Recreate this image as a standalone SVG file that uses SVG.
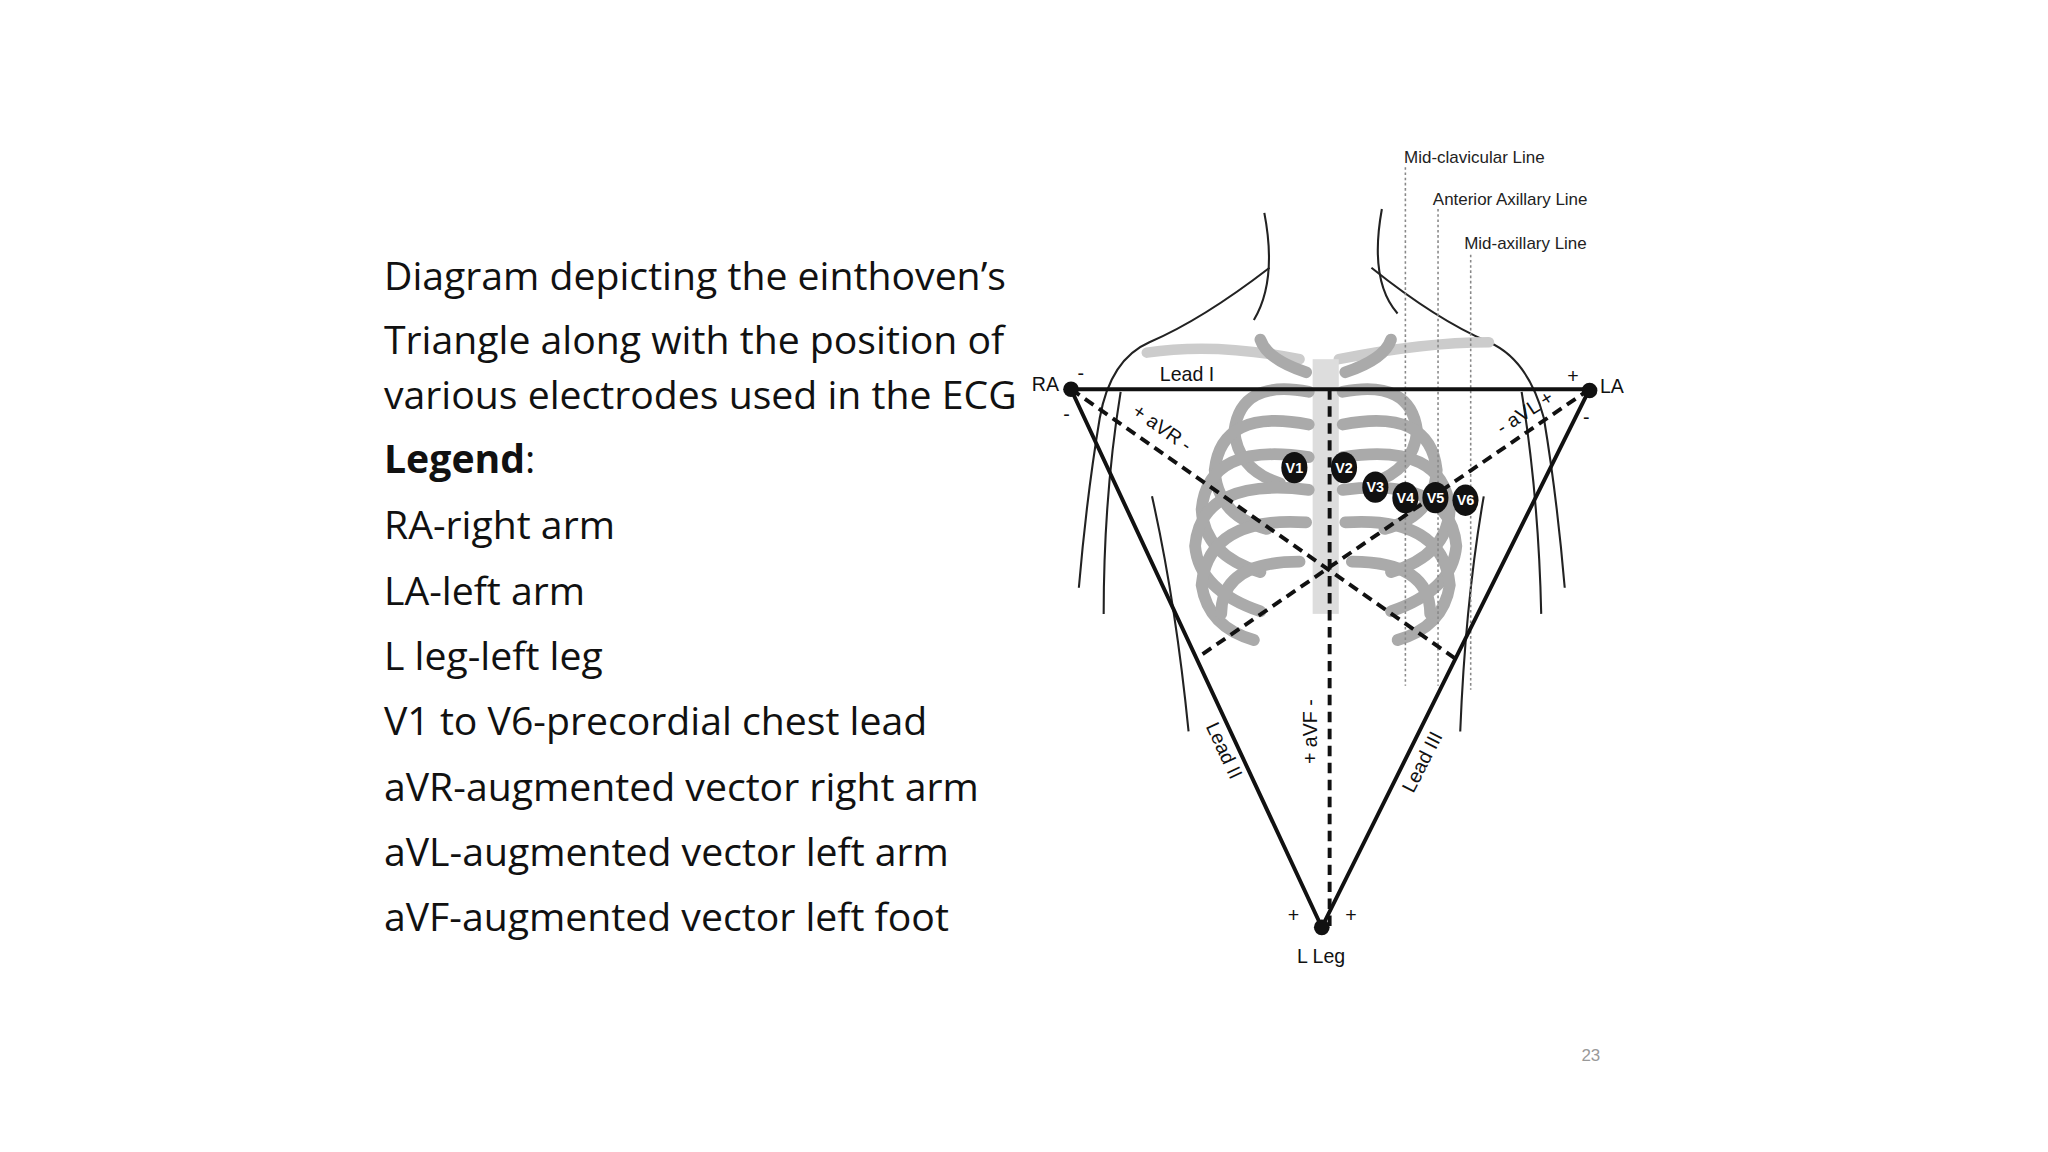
<svg xmlns="http://www.w3.org/2000/svg" width="2048" height="1152" viewBox="0 0 2048 1152">
<style>
.t{font-family:"Open Sans","Liberation Sans",sans-serif;font-size:30px;fill:#111}
.s{font-family:"Liberation Sans Narrow","Liberation Sans",sans-serif;font-size:13px;fill:#222}
.b{fill:none;stroke:#222;stroke-width:1.6}
.rib{fill:none;stroke:#aaa;stroke-width:9;stroke-linecap:round}
.dot{stroke:#888;stroke-width:1.2;stroke-dasharray:2 2;fill:none}
.tri{stroke:#111;stroke-width:3;fill:none}
.da{stroke:#111;stroke-width:3;stroke-dasharray:8 5;fill:none}
.v{fill:#fff;font-family:"Liberation Sans",sans-serif;font-size:11px;font-weight:bold;text-anchor:middle}
</style>
<rect width="2048" height="1152" fill="#fff"/>
<g transform="scale(1.30612)">
<g id="text">
<text class="t" x="294" y="222">Diagram depicting the einthoven’s</text>
<text class="t" x="294" y="271">Triangle along with the position of</text>
<text class="t" x="294" y="313">various electrodes used in the ECG</text>
<text class="t" x="294" y="362"><tspan font-weight="bold">Legend</tspan>:</text>
<text class="t" x="294" y="413">RA-right arm</text>
<text class="t" x="294" y="463">LA-left arm</text>
<text class="t" x="294" y="513">L leg-left leg</text>
<text class="t" x="294" y="563">V1 to V6-precordial chest lead</text>
<text class="t" x="294" y="613">aVR-augmented vector right arm</text>
<text class="t" x="294" y="663">aVL-augmented vector left arm</text>
<text class="t" x="294" y="713">aVF-augmented vector left foot</text>
<text x="1218" y="812" text-anchor="middle" font-family="Liberation Sans,sans-serif" font-size="13" fill="#999">23</text>
</g>
<g id="body">
<path class="b" d="M968 163 Q978 215 960 245 M1058 160 Q1048 215 1070 240"/>
<path class="b" d="M972 205 Q920 245 880 262 Q850 275 842 320 Q832 380 826 450"/>
<path class="b" d="M1050 205 Q1100 245 1140 262 Q1170 275 1182 320 Q1192 380 1198 450"/>
<path class="b" d="M858 300 Q845 380 845 470 M1165 300 Q1178 380 1180 470"/>
<path class="b" d="M882 380 Q900 460 910 560 M1136 380 Q1122 460 1118 560"/>
<path d="M878 270 Q930 262 995 275 M1025 275 Q1090 262 1140 262" fill="none" stroke="#ccc" stroke-width="8" stroke-linecap="round"/>
<rect x="1005" y="275" width="20" height="195" fill="#ddd"/>
<g class="rib">
<path d="M1000 285 Q970 275 965 260"/><path d="M1030 285 Q1060 275 1065 260"/>
<path d="M1002 300 Q950 290 945 330 Q948 360 980 370"/>
<path d="M1028 300 Q1080 290 1085 330 Q1082 360 1050 370"/>
<path d="M1002 325 Q935 312 930 360 Q932 395 970 405"/>
<path d="M1028 325 Q1095 312 1100 360 Q1098 395 1060 405"/>
<path d="M1002 350 Q925 338 920 390 Q922 425 965 438"/>
<path d="M1028 350 Q1105 338 1110 390 Q1108 425 1065 438"/>
<path d="M1002 375 Q920 365 915 418 Q918 452 965 468"/>
<path d="M1028 375 Q1110 365 1115 418 Q1112 452 1065 468"/>
<path d="M1000 400 Q925 395 920 448 Q925 480 960 490"/>
<path d="M1030 400 Q1105 395 1110 448 Q1105 480 1070 490"/>
<path d="M995 430 Q935 430 935 470"/><path d="M1035 430 Q1095 430 1095 470"/>
</g>
</g>
<g id="guides">
<path class="dot" d="M1076 128V525 M1101 160V525 M1126 195V528"/>
<text class="s" x="1075" y="125">Mid-clavicular Line</text>
<text class="s" x="1097" y="157">Anterior Axillary Line</text>
<text class="s" x="1121" y="191">Mid-axillary Line</text>
</g>
<g id="connectors">
<path class="tri" d="M820 298H1217L1012 710Z"/>
<path class="da" d="M820 298L1114 504 M1217 298L916 504 M1018 298V710"/>
</g>
<g id="electrodes">
<circle cx="820" cy="298" r="6" fill="#111"/><circle cx="1217" cy="299" r="6" fill="#111"/><circle cx="1012" cy="710" r="6" fill="#111"/>
<ellipse cx="991" cy="358" rx="10" ry="12" fill="#111"/><text class="v" x="991" y="362">V1</text>
<ellipse cx="1029" cy="358" rx="10" ry="12" fill="#111"/><text class="v" x="1029" y="362">V2</text>
<ellipse cx="1053" cy="373" rx="10" ry="12" fill="#111"/><text class="v" x="1053" y="377">V3</text>
<ellipse cx="1076" cy="381" rx="10" ry="12" fill="#111"/><text class="v" x="1076" y="385">V4</text>
<ellipse cx="1099" cy="381" rx="10" ry="12" fill="#111"/><text class="v" x="1099" y="385">V5</text>
<ellipse cx="1122" cy="383" rx="10" ry="12" fill="#111"/><text class="v" x="1122" y="387">V6</text>
</g>
<g id="labels" font-family="Liberation Sans,sans-serif" font-size="15" fill="#111">
<text x="790" y="299">RA</text><text x="1225" y="301">LA</text>
<text x="888" y="292">Lead I</text><text x="993" y="737">L Leg</text>
<text x="825" y="291">-</text><text x="814" y="322">-</text>
<text x="1200" y="293">+</text><text x="1212" y="325">-</text>
<text x="986" y="706">+</text><text x="1030" y="706">+</text>
<text transform="translate(866 317) rotate(35)">+ aVR -</text>
<text transform="translate(1150 333) rotate(-33)">- aVL +</text>
<text transform="translate(923 556) rotate(65)">Lead II</text>
<text transform="translate(1082 608) rotate(-63)">Lead III</text>
<text transform="translate(1008 585) rotate(-90)">+ aVF -</text>
</g>
</g>
</svg>
